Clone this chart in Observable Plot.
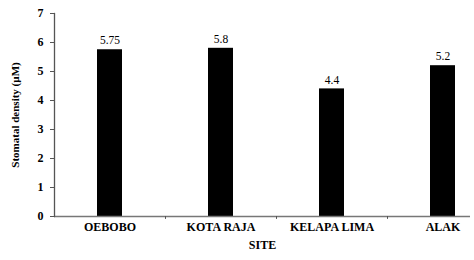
<!DOCTYPE html>
<html>
<head>
<meta charset="utf-8">
<script src="https://cdn.jsdelivr.net/npm/d3@7"></script>
<script src="https://cdn.jsdelivr.net/npm/@observablehq/plot@0.6"></script>
<style>
  html, body { margin: 0; padding: 0; background: #fff; }
  svg { display: block; }
  svg text { font-family: "Liberation Serif", "Times New Roman", serif !important; }
</style>
</head>
<body>
<div id="chart"></div>
<script>
const sites = ["OEBOBO", "KOTA RAJA", "KELAPA LIMA", "ALAK"];
const density = [5.75, 5.8, 4.4, 5.2];
const valueLabels = ["5.75", "5.8", "4.4", "5.2"];
const yTicks = [0, 1, 2, 3, 4, 5, 6, 7];

const data = sites.map((s, i) => ({site: s, value: density[i], label: valueLabels[i]}));

const W = 474, H = 260;
const xRange = [54, 498];
const step = (xRange[1] - xRange[0]) / sites.length;
const serif = "Liberation Serif";

const chart = Plot.plot({
  width: W,
  height: H,
  marginLeft: 54,
  marginRight: 4,
  marginTop: 13,
  marginBottom: 44,
  style: {fontFamily: serif, background: "#fff", color: "#000"},
  x: {domain: sites, range: xRange, paddingInner: 0.775, paddingOuter: 0.3875},
  y: {domain: [0, 7]},
  marks: [
    Plot.barY(data, {x: "site", y: "value", fill: "#000"}),
    Plot.text(data, {x: "site", y: "value", text: "label", dy: -9, fontSize: 11.5, fontFamily: serif, fill: "#000", style: "letter-spacing:0.8px"}),
    Plot.ruleY([0], {stroke: "#777", strokeWidth: 1.3}),
    Plot.frame({anchor: "left", stroke: "#555", strokeWidth: 1.3}),
    Plot.ruleX(sites.slice(1), {x: d => d, y1: 0, y2: -0.1, dx: -step / 2, stroke: "#555"}),
    Plot.axisY({ticks: yTicks, tickFormat: d3.format("d"), tickSize: 4, tickPadding: 7, fontSize: 12, fontWeight: "bold", fontFamily: serif, stroke: "#555",
      label: null}),
    Plot.text(["Stomatal density (µM)"], {frameAnchor: "left", textAnchor: "middle", dx: -39, rotate: -90, fontSize: 11, fontWeight: "bold", fontFamily: serif, fill: "#000"}),
    Plot.axisX({tickSize: 0, tickPadding: 6, fontSize: 12, fontWeight: "bold", fontFamily: serif, style: "letter-spacing:1.1px",
      label: null}),
    Plot.text(["SITE"], {frameAnchor: "bottom", dy: 32, fontSize: 12, fontWeight: "bold", fontFamily: serif, fill: "#000", style: "letter-spacing:1px"}),
  ]
});

document.getElementById("chart").appendChild(chart);
</script>
</body>
</html>
